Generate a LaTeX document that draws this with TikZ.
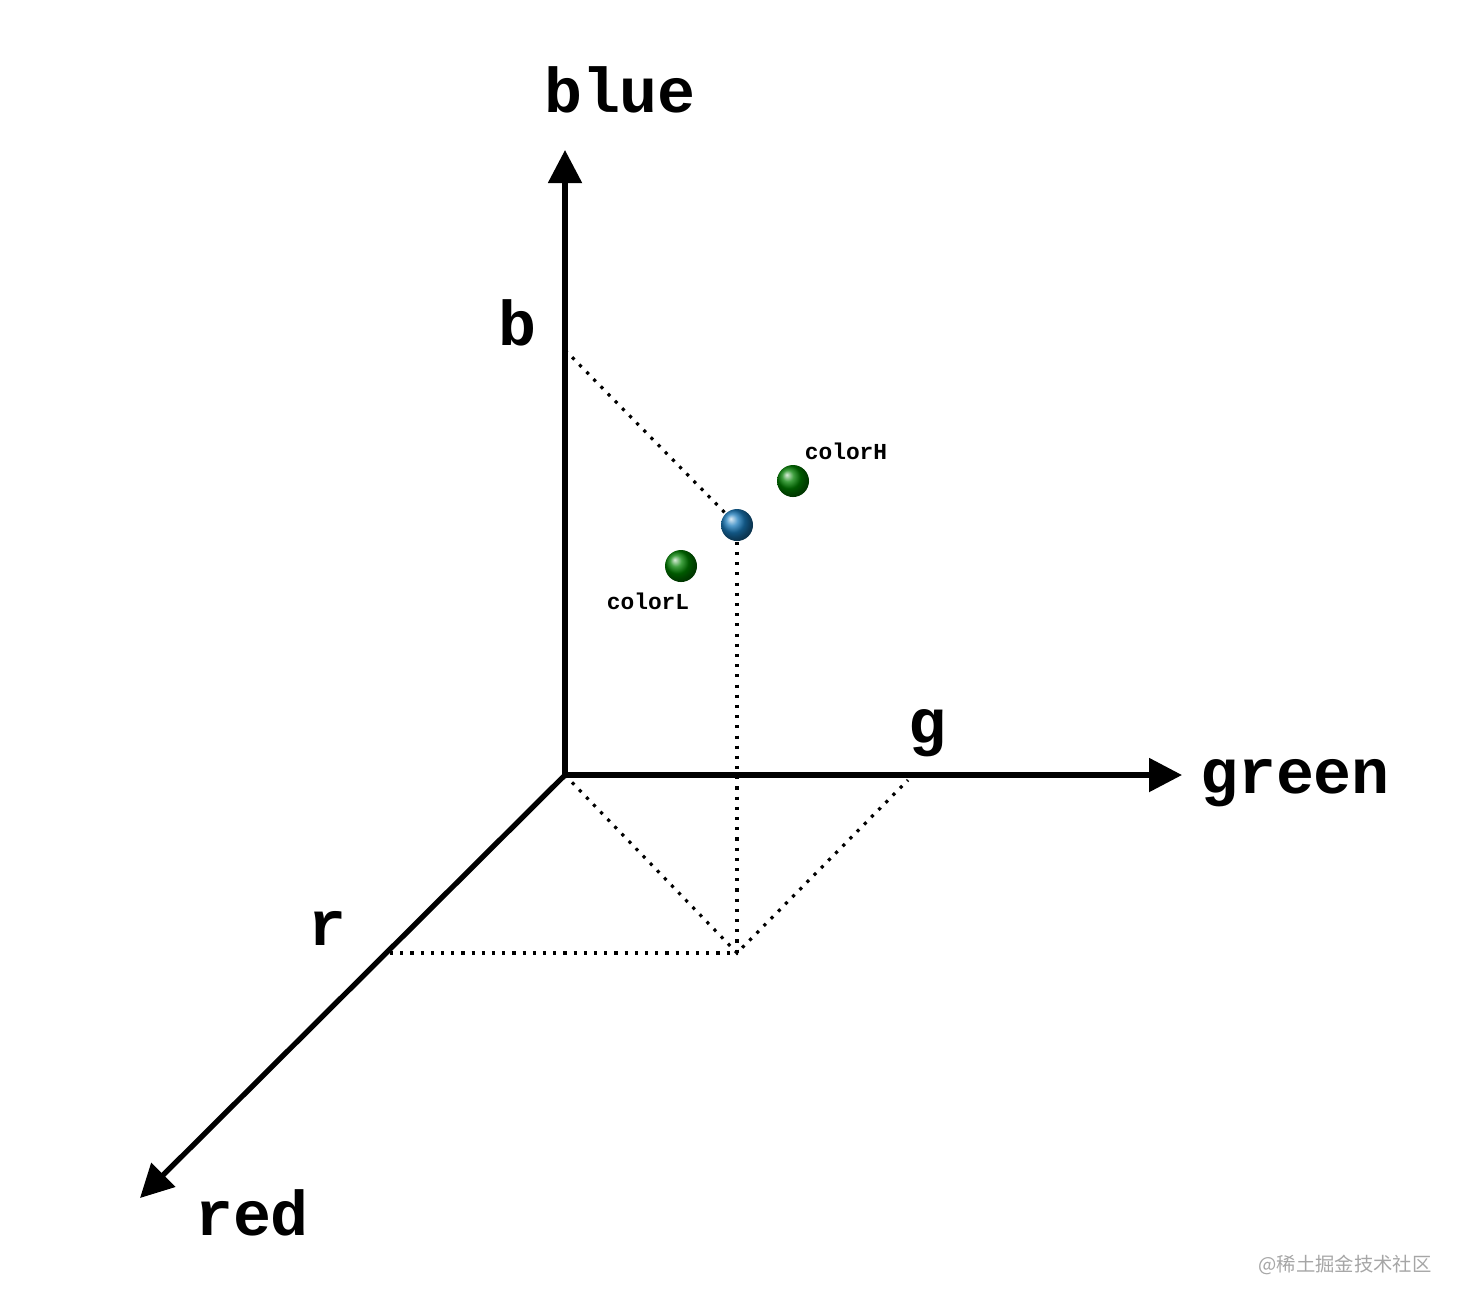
\documentclass[tikz,border=0pt]{standalone}
\usepackage{fontspec}
\setmonofont{Liberation Mono}
\newfontfamily\cjk{Noto Sans CJK SC}
\usetikzlibrary{arrows.meta}
\begin{document}
\begin{tikzpicture}[x=0.01cm,y=-0.01cm,
  axis/.style={line width=1.5pt,-{Triangle[length=0.33cm,width=0.33cm]}},
  dot/.style={dotted,line width=0.9pt},
  big/.style={font=\ttfamily\bfseries\fontsize{18}{20}\selectfont,inner sep=0},
  small/.style={font=\ttfamily\bfseries\fontsize{6.5}{8}\selectfont,inner sep=0},
  ball/.style={circle,minimum size=0.32cm,inner sep=0,shading=ball}]
\useasboundingbox (0,0) rectangle (1458,1308);
\coordinate (O) at (565,775);
\coordinate (B) at (565,150);
\coordinate (G) at (1182,775);
\coordinate (R) at (140,1198);
\coordinate (pb) at (565,350);
\coordinate (pg) at (908,780);
\coordinate (pr) at (390,953);
\coordinate (pp) at (737,953);
\node[ball,ball color=blue!40!cyan!70!black!90] (P) at (737,525) {};
\node[ball,ball color=green!50!black] (H) at (793,481) {};
\node[ball,ball color=green!50!black] (L) at (681,566) {};
\draw[dot] (pb) -- (P);
\draw[dot] (P) -- (pp);
\draw[dot] (O) -- (pp) -- (pg);
\draw[dot] (pr) -- (pp);
\draw[axis] (O) -- (B);
\draw[axis] (O) -- (G);
\draw[axis] (O) -- (R);
\node[big] (lb) at (620,90) {blue};
\node[big] (lg) at (1295,783) {green};
\node[big] (lr) at (252,1213) {red};
\node[big] (b) at (517,323) {b};
\node[big] (g) at (927,733) {g};
\node[big] (r) at (327,928) {r};
\node[small] (tH) at (846,451) {colorH};
\node[small] (tL) at (648,601) {colorL};
\node[font=\cjk\fontsize{5.5}{7}\selectfont,text=gray!70,inner sep=0] (wm) at (1345,1265) {@稀土掘金技术社区};
\end{tikzpicture}
\end{document}
